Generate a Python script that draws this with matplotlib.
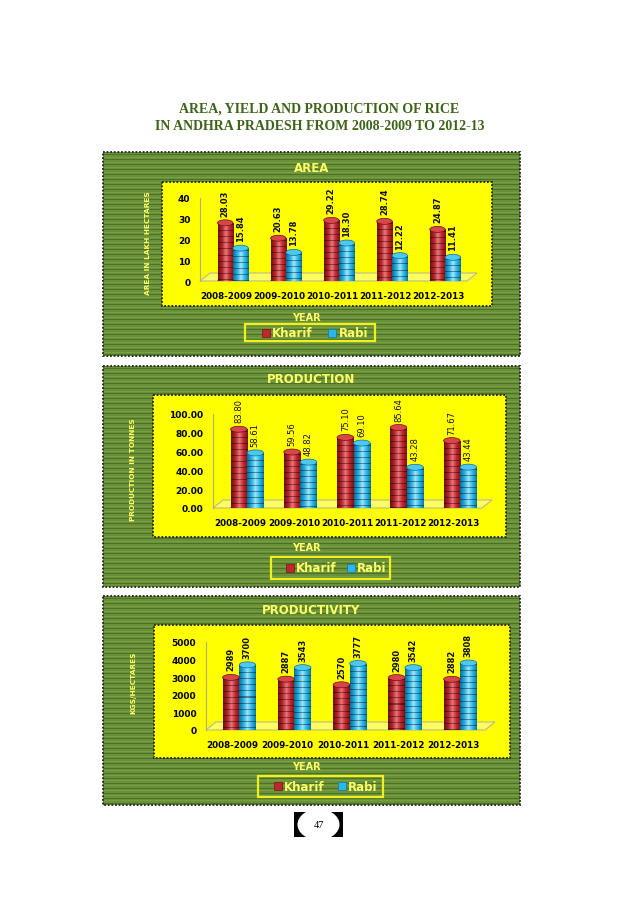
import numpy as np
import matplotlib.pyplot as plt
from matplotlib.patches import Rectangle, Ellipse, Polygon
from matplotlib.colors import LinearSegmentedColormap

# данные
years = ['2008-2009', '2009-2010', '2010-2011', '2011-2012', '2012-2013']
area_kharif = [28.03, 20.63, 29.22, 28.74, 24.87]
area_rabi = [15.84, 13.78, 18.30, 12.22, 11.41]
prod_kharif = [83.80, 59.56, 75.10, 85.64, 71.67]
prod_rabi = [58.61, 48.82, 69.10, 43.28, 43.44]
yield_kharif = [2989, 2887, 2570, 2980, 2882]
yield_rabi = [3700, 3543, 3777, 3542, 3808]

W, H = 638, 903
fig = plt.figure(figsize=(W / 100, H / 100), dpi=100)
bg = fig.add_axes([0, 0, 1, 1])
bg.set_xlim(0, W)
bg.set_ylim(H, 0)
bg.axis('off')

title_col = '#3e6419'
txt_yel = '#ffff66'
red_cm = LinearSegmentedColormap.from_list('r', ['#6e1012', '#b3232a', '#e8767a', '#c0272d', '#7a1418'])
blue_cm = LinearSegmentedColormap.from_list('b', ['#0b6f9c', '#22aee0', '#9fe4fa', '#2ab8ea', '#0d7aa8'])

bg.text(W / 2, 109, 'AREA, YIELD AND PRODUCTION OF RICE', ha='center', va='center',
        family='Liberation Serif', weight='bold', fontsize=10, color=title_col)
bg.text(W / 2 + 1, 127, 'IN ANDHRA PRADESH FROM 2008-2009 TO 2012-13', ha='center', va='center',
        family='Liberation Serif', weight='bold', fontsize=10, color=title_col)

# раскладка панелей (в пикселях)
panels = [
    dict(title='AREA', ylab='AREA IN LAKH HECTARES', kh=area_kharif, rb=area_rabi,
         green=(103, 153, 520, 357), yellow=(162, 183, 492, 307), ax=(200, 199, 477, 282),
         ylim=40, step=10, fmt='{:.0f}', lfmt='{:.2f}', lw='bold', ty=169, yy=318,
         leg=(245, 325, 375, 342), ylx=148, yly=243, xl=(-0.62, 4.6), bw=0.29),
    dict(title='PRODUCTION', ylab='PRODUCTION IN TONNES', kh=prod_kharif, rb=prod_rabi,
         green=(103, 367, 520, 588), yellow=(153, 396, 506, 538), ax=(213, 415, 492, 509),
         ylim=100, step=20, fmt='{:.2f}', lfmt='{:.2f}', lw='normal', ty=380, yy=548,
         leg=(271, 558, 390, 580), ylx=133, yly=470, xl=(-0.64, 4.6), bw=0.31),
    dict(title='PRODUCTIVITY', ylab='KGS/HECTARES', kh=yield_kharif, rb=yield_rabi,
         green=(103, 597, 520, 806), yellow=(154, 626, 510, 759), ax=(206, 643, 495, 731),
         ylim=5000, step=1000, fmt='{:.0f}', lfmt='{:.0f}', lw='bold', ty=611, yy=767,
         leg=(258, 777, 383, 798), ylx=133, yly=683, xl=(-0.6, 4.63), bw=0.3),
]

for p in panels:
    gx0, gy0, gx1, gy1 = p['green']
    bg.add_patch(Rectangle((gx0, gy0), gx1 - gx0, gy1 - gy0, facecolor='#6a9038', edgecolor='none', zorder=1))
    ys = np.arange(gy0 + 2, gy1 - 1, 2.5)
    bg.hlines(ys[::2], gx0, gx1, color='#4b7027', lw=0.7, zorder=1.1)
    bg.hlines(ys[1::2], gx0, gx1, color='#7da647', lw=0.5, zorder=1.1)
    bg.add_patch(Rectangle((gx0, gy0), gx1 - gx0, gy1 - gy0, facecolor='none', edgecolor='#222222',
                           lw=1.3, linestyle=(0, (1, 1)), zorder=1.2))
    yx0, yy0, yx1, yy1 = p['yellow']
    bg.add_patch(Rectangle((yx0, yy0), yx1 - yx0, yy1 - yy0, facecolor='#ffff00', edgecolor='#222222',
                           lw=1.3, linestyle=(0, (1, 1)), zorder=1.3))
    bg.text((gx0 + gx1) / 2, p['ty'], p['title'], ha='center', va='center', weight='bold',
            fontsize=8.5, color=txt_yel, zorder=3)
    bg.text((gx0 + gx1) / 2 - 5, p['yy'], 'YEAR', ha='center', va='center', weight='bold',
            fontsize=7, color=txt_yel, zorder=3)
    bg.text(p['ylx'], p['yly'], p['ylab'], ha='center', va='center', rotation=90, weight='bold',
            fontsize=5.3, color=txt_yel, zorder=3)
    lx0, ly0, lx1, ly1 = p['leg']
    bg.add_patch(Rectangle((lx0, ly0), lx1 - lx0, ly1 - ly0, facecolor='none', edgecolor='#f0f020',
                           lw=1.6, zorder=3))
    lw_ = lx1 - lx0
    cy = (ly0 + ly1) / 2
    bg.add_patch(Rectangle((lx0 + 0.13 * lw_, cy - 4), 8, 8, facecolor='#c0272d', edgecolor='#7a1418',
                           lw=0.5, zorder=3))
    bg.text(lx0 + 0.21 * lw_, cy, 'Kharif', ha='left', va='center', weight='bold', fontsize=8.5,
            color=txt_yel, zorder=3)
    bg.add_patch(Rectangle((lx0 + 0.64 * lw_, cy - 4), 8, 8, facecolor='#2ab8ea', edgecolor='#0d7aa8',
                           lw=0.5, zorder=3))
    bg.text(lx0 + 0.72 * lw_, cy, 'Rabi', ha='left', va='center', weight='bold', fontsize=8.5,
            color=txt_yel, zorder=3)

    # оси графика
    ax0, ayt, ax1, ayb = p['ax']
    ax = fig.add_axes([ax0 / W, 1 - ayb / H, (ax1 - ax0) / W, (ayb - ayt) / H])
    ax.patch.set_alpha(0)
    ax.set_xlim(*p['xl'])
    ax.set_ylim(0, p['ylim'])
    for s in ['top', 'right', 'bottom']:
        ax.spines[s].set_visible(False)
    ax.spines['left'].set_color('#b0b080')
    ax.spines['left'].set_linewidth(0.8)
    ticks = np.arange(0, p['ylim'] + 1, p['step'])
    ax.set_yticks(ticks)
    ax.set_yticklabels([p['fmt'].format(t) for t in ticks], fontsize=6.5, weight='bold')
    x = np.arange(len(years))
    ax.set_xticks(x - 0.12)
    ax.set_xticklabels(years, fontsize=6.3, weight='bold')
    ax.tick_params(length=0, pad=7)

    # пол (псевдо-3D)
    axw, axh = ax1 - ax0, ayb - ayt
    dxa, dya = 10 / axw, 8 / axh
    ax.add_patch(Polygon([(0, 0), (1 - dxa, 0), (1, dya), (dxa, dya)], closed=True,
                         transform=ax.transAxes, facecolor='#ffff60', edgecolor='#b8b890',
                         lw=0.8, clip_on=False, zorder=1))

    upp = p['ylim'] / axh
    cap = 6 * upp
    bw = p['bw']
    grad = np.linspace(0, 1, 60)
    for vals, off, cm, top, edge in [(p['kh'], -bw / 2, red_cm, '#d8454a', '#6e1012'),
                                     (p['rb'], bw / 2, blue_cm, '#4cc8f2', '#0b6f9c')]:
        bars = ax.bar(x + off, vals, bw, color=cm(0.5), zorder=2)
        for b, v in zip(bars, vals):
            xc = b.get_x() + bw / 2
            ax.add_patch(Ellipse((xc, 0), bw, cap, facecolor=cm(0.1), edgecolor='none', zorder=2))
            nrow = max(int(round(v / upp)), 1)
            rgb = np.repeat(cm(grad)[None, :, :3], nrow, axis=0)
            rgb[2::6] *= 0.6
            im = ax.imshow(rgb, aspect='auto', interpolation='nearest',
                           extent=[b.get_x(), b.get_x() + bw, 0, v], zorder=3)
            im.set_clip_path(b)
            ax.add_patch(Ellipse((xc, v), bw, cap, facecolor=top, edgecolor=edge, lw=0.5, zorder=4))
            ax.annotate(p['lfmt'].format(v), (xc, v), xytext=(0, 5), textcoords='offset points',
                        rotation=90, ha='center', va='bottom', fontsize=6, weight=p['lw'],
                        color='#111111', annotation_clip=False)
    ax.set_xlim(*p['xl'])
    ax.set_ylim(0, p['ylim'])

# номер страницы
bg.add_patch(Rectangle((294, 813), 49, 25, facecolor='black', edgecolor='none'))
bg.add_patch(Ellipse((318.5, 825.5), 42, 31, facecolor='white', edgecolor='none'))
bg.text(318.5, 826, '47', ha='center', va='center', family='Liberation Serif', fontsize=7.5)

fig.savefig('out.png', dpi=100)
